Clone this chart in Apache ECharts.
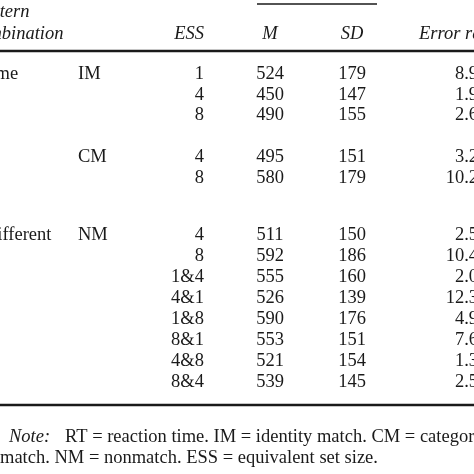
<!DOCTYPE html><html><head><meta charset="utf-8">
<script src="https://cdn.jsdelivr.net/npm/echarts@6/dist/echarts.min.js"></script>
<style>html,body{margin:0;background:#fff}#c{width:474px;height:474px}</style></head><body><div id="c"></div>
<script>
const groups = ["Same","","","","","Different","","","","","","",""];
const types = ["IM","","","CM","","NM","","","","","","",""];
const ess = ["1","4","8","4","8","4","8","1&4","4&1","1&8","8&1","4&8","8&4"];
const meanRT = [524,450,490,495,580,511,592,555,526,590,553,521,539];
const sdRT = [179,147,155,151,179,150,186,160,139,176,151,154,145];
const errorRate = ["8.9","1.9","2.6","3.2","10.2","2.5","10.4","2.0","12.3","4.9","7.6","1.3","2.5"];
const rowY = [74,95,115,157,178,235,256,277,298,319,340,361,382];

const F = '"Liberation Serif", "DejaVu Serif", serif';
const S = 18.5;
const g = [];
function t(x,y,s,align,italic){g.push({type:'text',x:x,y:y,style:{text:s,fill:'#1a1a1a',font:(italic?'italic ':'')+S+'px '+F,textAlign:align||'left',textVerticalAlign:'middle'}});}
function line(x1,y1,x2,y2,w){g.push({type:'line',shape:{x1,y1,x2,y2},style:{stroke:'#1a1a1a',lineWidth:w}});}
line(257,4,377,4,1.6);
t(-26,12,'Pattern','left',true);
t(-29,34,'combination','left',true);
t(204,34,'ESS','right',true);
t(270,34,'M','center',true);
t(352,34,'SD','center',true);
t(419,34,'Error rate','left',true);
line(0,51,474,51,2.5);
for(let i=0;i<ess.length;i++){
  const y=rowY[i];
  if(groups[i]==='Same') t(-23,y,'Same');
  if(groups[i]==='Different') t(-16,y,'Different');
  if(types[i]) t(78,y,types[i]);
  t(204,y,ess[i],'right');
  t(270,y,String(meanRT[i]),'center');
  t(352,y,String(sdRT[i]),'center');
  t(478,y,errorRate[i],'right');
}
line(0,405,474,405,2.5);
t(9,437,'Note:','left',true);
t(65,437,'RT = reaction time. IM = identity match. CM = category');
t(0,458,'match. NM = nonmatch. ESS = equivalent set size.');
const chart=echarts.init(document.getElementById('c'),null,{renderer:'canvas'});
chart.setOption({animation:false,graphic:g});
</script></body></html>
